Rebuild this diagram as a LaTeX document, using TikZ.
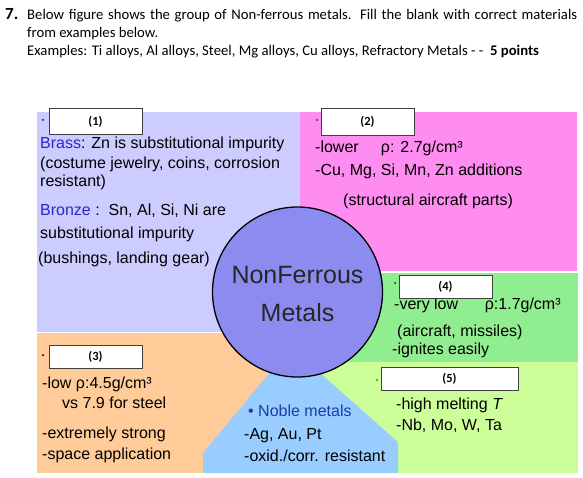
\documentclass[tikz,border=0pt]{standalone}
\usepackage{fontspec}
\setmainfont{Liberation Sans}
\newfontfamily\carl{Carlito}
\definecolor{lav}{RGB}{204,204,255}
\definecolor{pinkr}{RGB}{255,140,240}
\definecolor{greenr}{RGB}{144,238,144}
\definecolor{ygr}{RGB}{204,255,153}
\definecolor{oranr}{RGB}{255,204,153}
\definecolor{bluer}{RGB}{153,204,255}
\definecolor{circ}{RGB}{140,140,240}
\definecolor{brassc}{RGB}{40,40,200}
\definecolor{noblec}{RGB}{30,60,170}
\begin{document}
\begin{tikzpicture}[x=1pt,y=-1pt,
  txt/.style={anchor=base west, inner sep=0pt, font=\fontsize{16}{19}\selectfont},
  ttl/.style={anchor=base west, inner sep=0pt, font=\carl\fontsize{14.7}{18}\selectfont},
  blank/.style={draw=black!75, fill=white, line width=0.8pt, inner sep=0pt, font=\carl\bfseries\fontsize{12.5}{14}\selectfont},
  dot/.style={circle, fill=#1, inner sep=0pt, minimum size=2.5pt}]
\useasboundingbox (0,0) rectangle (583,478);
\fill[white] (0,0) rectangle (583,478);
% title
\node[ttl, font=\carl\bfseries\fontsize{17}{18}\selectfont] (q) at (5,20) {7.};
\node[ttl] (t1) at (27,20) {\makebox[550pt][s]{Below figure shows the group of Non-ferrous metals. Fill the blank with correct materials}};
\node[ttl] (t2) at (27,38) {from examples below.};
\node[ttl] (t3) at (27,56) {Examples: Ti alloys, Al alloys, Steel, Mg alloys, Cu alloys, Refractory Metals - -\ \ \textbf{5 points}};
% regions
\fill[lav] (37,112) rectangle (300,332);
\fill[pinkr] (300,112) rectangle (577,271);
\fill[greenr] (300,273) rectangle (578,362);
\fill[oranr] (37,333) rectangle (300,473);
\fill[ygr] (300,362) rectangle (578,473);
\fill[bluer] (276,365) -- (311,365) -- (398,442) -- (398,473) -- (203,473) -- (203,453) -- cycle;
% circle
\node[circle, draw=black, line width=1.3pt, fill=circ, minimum size=170pt, inner sep=0pt] (c) at (297.5,292) {};
\node[inner sep=0pt, anchor=base, font=\fontsize{25}{28}\selectfont, text=black!85] (c1) at (297.5,283) {NonFerrous};
\node[inner sep=0pt, anchor=base, font=\fontsize{25}{28}\selectfont, text=black!85] (c2) at (297.5,321) {Metals};
% region 1
\node[txt] (a1) at (40,149) {\textcolor{brassc}{Brass}: Zn is substitutional impurity};
\node[txt] (a2) at (40,169) {(costume jewelry, coins, corrosion};
\node[txt] (a3) at (40,187) {resistant)};
\node[txt] (a4) at (40,216) {\textcolor{brassc}{Bronze} :\ \ Sn, Al, Si, Ni are};
\node[txt] (a5) at (40,239) {substitutional impurity};
\node[txt] (a6) at (38,263) {(bushings, landing gear)};
\node[dot=brassc] (d1) at (43,120) {};
\node[blank, minimum width=93pt, minimum height=26pt] (b1) at (95.5,121.5) {(1)};
% region 2
\node[txt] (p1) at (315,153) {-lower\ \ \ \ \ ρ: 2.7g/cm³};
\node[txt] (p2) at (315,176) {-Cu, Mg, Si, Mn, Zn additions};
\node[txt] (p3) at (343,206) {(structural aircraft parts)};
\node[dot=black!70] (d2) at (317,120) {};
\node[blank, minimum width=93pt, minimum height=27pt] (b2) at (367.5,122) {(2)};
% region 4
\node[txt] (g1) at (394,309) {-very low\ \ \ \ \ \ ρ:1.7g/cm³};
\node[txt] (g2) at (397,336) {(aircraft, missiles)};
\node[txt] (g3) at (392,354) {-ignites easily};
\node[dot=green!50!black] (d4) at (395,283) {};
\node[blank, minimum width=93pt, minimum height=23pt] (b4) at (445.5,286.5) {(4)};
% region 5
\node[txt] (y1) at (396,409) {-high melting \textit{T}};
\node[txt] (y2) at (396,430) {-Nb, Mo, W, Ta};
\node[dot=olive] (d5) at (377,380) {};
\node[blank, minimum width=137pt, minimum height=23pt] (b5) at (449.5,378.5) {(5)};
% region 3
\node[txt] (o1) at (42,388) {-low ρ:4.5g/cm³};
\node[txt] (o2) at (62,408) {vs 7.9 for steel};
\node[txt] (o3) at (42,438) {-extremely strong};
\node[txt] (o4) at (42,459) {-space application};
\node[dot=red!60!black] (d3) at (43,355) {};
\node[blank, minimum width=93pt, minimum height=23pt] (b3) at (95.5,356.5) {(3)};
% noble
\node[txt, text=noblec] (n1) at (248,416) {• Noble metals};
\node[txt] (n2) at (244,439) {-Ag, Au, Pt};
\node[txt] (n3) at (244,461) {-oxid./corr. resistant};
\end{tikzpicture}
\end{document}
